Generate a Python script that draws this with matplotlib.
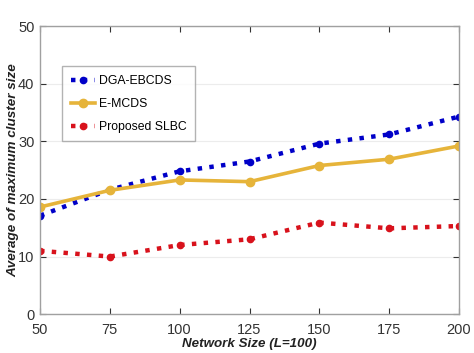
import matplotlib
matplotlib.use("Agg")
import matplotlib.pyplot as plt

plt.rcParams['font.family'] = ['Liberation Sans', 'DejaVu Sans']

x_vals = [50, 75, 100, 125, 150, 175, 200]
dga_ebcds = [17.1, 21.6, 24.8, 26.5, 29.6, 31.2, 34.3]
e_mcds = [18.6, 21.5, 23.3, 23.0, 25.8, 26.9, 29.2]
slbc = [11.0, 10.0, 12.0, 13.0, 15.9, 14.9, 15.3]
y_ticks = [0, 10, 20, 30, 40, 50]

fig = plt.figure(figsize=(4.74, 3.53), dpi=100)
ax = fig.add_axes([0.0844, 0.110, 0.884, 0.816])

ax.plot(x_vals, dga_ebcds, linestyle=':', color='#0000c8', linewidth=3.2,
        marker='o', markersize=4.5, label='DGA-EBCDS')
ax.plot(x_vals, e_mcds, linestyle='-', color='#e6b43a', linewidth=2.6,
        marker='o', markersize=6, label='E-MCDS')
ax.plot(x_vals, slbc, linestyle=':', color='#d8121c', linewidth=3.2,
        marker='o', markersize=4.5, label='Proposed SLBC')

ax.set_xlim(50, 200)
ax.set_ylim(0, 50)
ax.set_xticks(x_vals)
ax.set_yticks(y_ticks)
ax.yaxis.grid(True, color='#ececec', linewidth=0.8)
ax.set_axisbelow(True)
ax.tick_params(direction='in', top=True, right=True, labelsize=10.5, colors='#333333',
               length=4, width=0.8, pad=4)
ax.tick_params(axis='x', pad=6)
for sp in ax.spines.values():
    sp.set_color('#a0a0a0')
    sp.set_linewidth(1.0)

ax.set_xlabel('Network Size (L=100)', fontsize=9.6, fontweight='bold', style='italic',
              color='#222222', labelpad=1)
ax.set_ylabel('Average of maximum cluster size', fontsize=9.7, fontweight='bold',
              style='italic', color='#222222')
ax.yaxis.set_label_coords(-0.05, 0.5)

leg = ax.legend(loc='upper left', bbox_to_anchor=(0.038, 0.882), fontsize=8.8,
                frameon=True, fancybox=False, edgecolor='#a0a0a0',
                handlelength=2.0, handletextpad=0.3, borderpad=0.7, labelspacing=0.9)
leg.get_frame().set_linewidth(1.0)

fig.savefig('out.png', dpi=100)
